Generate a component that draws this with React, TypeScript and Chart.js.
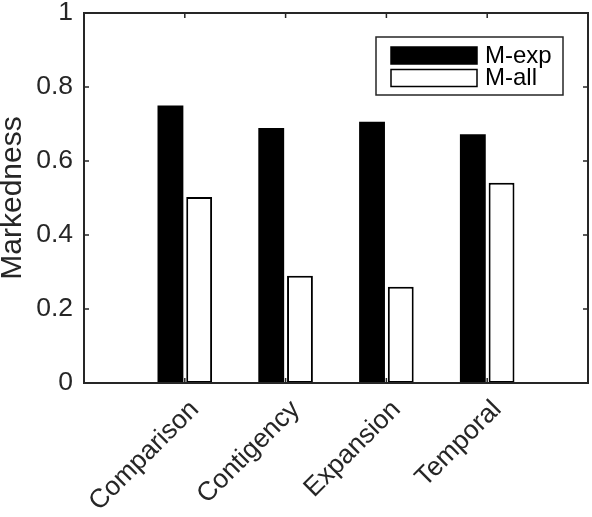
import React, { useEffect, useRef } from "react";
import { Chart, registerables } from "chart.js";

Chart.register(...registerables);

// values
const categories = ["Comparison", "Contigency", "Expansion", "Temporal"];
const mExp = [0.75, 0.689, 0.706, 0.672];
const mAll = [0.503, 0.29, 0.26, 0.541];
const yTicks = [0, 0.2, 0.4, 0.6, 0.8, 1];
const seriesLabels = ["M-exp", "M-all"];

const AXIS = "#262626";
const FONT = "'Liberation Sans', Arial, Helvetica, sans-serif";

// MATLAB style box with inward ticks on all four sides
const boxPlugin = {
  id: "matlabBox",
  afterDatasetsDraw(chart: any) {
    const { ctx, chartArea: a, scales } = chart;
    const len = 5;
    ctx.save();
    ctx.strokeStyle = AXIS;
    ctx.lineWidth = 1.5;
    ctx.beginPath();
    scales.y.ticks.forEach((t: any) => {
      const py = scales.y.getPixelForValue(t.value);
      ctx.moveTo(a.left, py);
      ctx.lineTo(a.left + len, py);
      ctx.moveTo(a.right, py);
      ctx.lineTo(a.right - len, py);
    });
    scales.x.ticks.forEach((t: any) => {
      const px = scales.x.getPixelForValue(t.value);
      ctx.moveTo(px, a.top);
      ctx.lineTo(px, a.top + len);
      ctx.moveTo(px, a.bottom);
      ctx.lineTo(px, a.bottom - len);
    });
    ctx.stroke();
    ctx.lineWidth = 2;
    ctx.strokeRect(a.left, a.top, a.right - a.left, a.bottom - a.top);
    ctx.restore();
  },
};

// legend box in the upper right corner of the plot
const legendPlugin = {
  id: "matlabLegend",
  afterDraw(chart: any) {
    const { ctx, chartArea: a } = chart;
    const w = 187;
    const h = 58;
    const x0 = a.right - 212;
    const y0 = a.top + 24;
    ctx.save();
    ctx.fillStyle = "#ffffff";
    ctx.fillRect(x0, y0, w, h);
    ctx.strokeStyle = AXIS;
    ctx.lineWidth = 1.5;
    ctx.strokeRect(x0, y0, w, h);
    ctx.font = `24px ${FONT}`;
    ctx.textBaseline = "middle";
    chart.data.datasets.forEach((ds: any, i: number) => {
      const sy = y0 + 10 + i * 22.5;
      ctx.fillStyle = ds.backgroundColor;
      ctx.fillRect(x0 + 15, sy, 86, 17);
      ctx.strokeStyle = "#000000";
      ctx.lineWidth = 1.5;
      ctx.strokeRect(x0 + 15, sy, 86, 17);
      ctx.fillStyle = "#000000";
      ctx.fillText(ds.label, x0 + 109, sy + 9);
    });
    ctx.restore();
  },
};

export default function App() {
  const canvasRef = useRef<HTMLCanvasElement | null>(null);
  const chartRef = useRef<Chart | null>(null);

  useEffect(() => {
    document.body.style.margin = "0";
    const ctx = canvasRef.current?.getContext("2d");
    if (!ctx) return;
    if (chartRef.current) chartRef.current.destroy();

    chartRef.current = new Chart(ctx, {
      type: "bar",
      data: {
        datasets: [
          {
            label: seriesLabels[0],
            data: mExp.map((v, i) => ({ x: i + 1, y: v })),
            backgroundColor: "#000000",
            borderColor: "#000000",
            borderWidth: 0,
          },
          {
            label: seriesLabels[1],
            data: mAll.map((v, i) => ({ x: i + 1, y: v })),
            backgroundColor: "#ffffff",
            borderColor: "#000000",
            borderWidth: 2,
            borderSkipped: false,
          },
        ],
      },
      plugins: [boxPlugin, legendPlugin],
      options: {
        responsive: false,
        animation: false,
        categoryPercentage: 0.57,
        barPercentage: 0.9,
        layout: { padding: { top: 0, right: 4, left: 0, bottom: 0 } },
        plugins: {
          legend: { display: false },
          tooltip: { enabled: false },
        },
        scales: {
          x: {
            type: "linear",
            min: 0,
            max: 5,
            offset: false,
            grid: { display: false, drawTicks: false },
            border: { display: false },
            afterBuildTicks: (s: any) => {
              s.ticks = categories.map((_, i) => ({ value: i + 1 }));
            },
            afterFit: (s: any) => {
              s.height = 134;
            },
            ticks: {
              autoSkip: false,
              minRotation: 45,
              maxRotation: 45,
              padding: 13,
              labelOffset: 10,
              color: AXIS,
              font: { family: FONT, size: 26.5, lineHeight: 1 },
              callback: (v: any) => categories[Number(v) - 1] ?? "",
            },
          },
          y: {
            min: 0,
            max: 1,
            grid: { display: false, drawTicks: false },
            border: { display: false },
            afterBuildTicks: (s: any) => {
              s.ticks = yTicks.map((v) => ({ value: v }));
            },
            afterFit: (s: any) => {
              s.width = 84;
              // the top of the plot box sits at y = 13 in the reference
              s.paddingTop = 13;
            },
            ticks: {
              padding: 11,
              color: AXIS,
              font: { family: FONT, size: 26.5, lineHeight: 1 },
              callback: (v: any) => String(v),
            },
            title: {
              display: true,
              text: "Markedness",
              color: AXIS,
              padding: 0,
              font: { family: FONT, size: 30, lineHeight: 0.85 },
            },
          },
        },
      },
    } as any);

    return () => {
      if (chartRef.current) {
        chartRef.current.destroy();
        chartRef.current = null;
      }
    };
  }, []);

  return (
    <div style={{ width: "592px", height: "517px" }}>
      <canvas ref={canvasRef} width={592} height={517} style={{ width: "592px", height: "517px" }} />
    </div>
  );
}
